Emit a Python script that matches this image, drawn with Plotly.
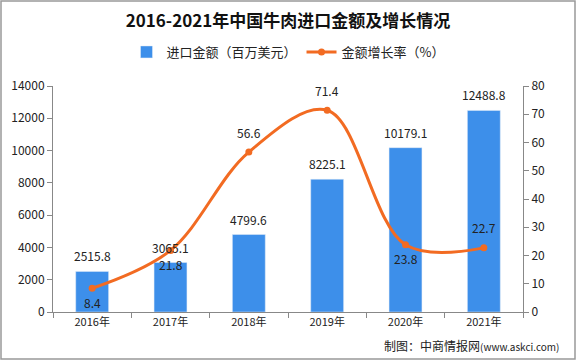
import plotly.graph_objects as go

years = ["2016年", "2017年", "2018年", "2019年", "2020年", "2021年"]
import_value = [2515.8, 3065.1, 4799.6, 8225.1, 10179.1, 12488.8]
growth_rate = [8.4, 21.8, 56.6, 71.4, 23.8, 22.7]
growth_label_side = ["below", "below", "above", "above", "below", "above"]

font_main = "Noto Sans CJK SC"

fig = go.Figure()
fig.add_trace(go.Bar(
    x=years, y=import_value, name="进口金额（百万美元）",
    marker_color="#3D8FEA", width=0.42, cliponaxis=False,
))
fig.add_trace(go.Scatter(
    x=years, y=growth_rate, name="金额增长率（%）", yaxis="y2",
    mode="lines+markers",
    line=dict(color="#F26B22", width=3, shape="spline", smoothing=1.0),
    marker=dict(size=7, color="#F26B22"),
    cliponaxis=False,
))

W, H = 576, 360
l, r, t, b = 53, 53, 86, 48
pw, ph = W - l - r, H - t - b

label_font = dict(size=12, color="#222", family=font_main)
bar_labels = [dict(x=yr, y=v, xref="x", yref="y", text=f"{v:.1f}", showarrow=False,
                   yanchor="bottom", yshift=5, font=label_font)
              for yr, v in zip(years, import_value)]
line_labels = [dict(x=yr, y=v, xref="x", yref="y2", text=f"{v:.1f}", showarrow=False,
                    yanchor="middle", yshift=(20 if side == "above" else -14), font=label_font)
               for yr, v, side in zip(years, growth_rate, growth_label_side)]

fig.update_layout(
    width=W, height=H,
    margin=dict(l=l, r=r, t=t, b=b, autoexpand=False),
    paper_bgcolor="white", plot_bgcolor="white",
    font=dict(family=font_main, size=12, color="#222"),
    title=dict(text="<b>2016-2021年中国牛肉进口金额及增长情况</b>", x=0.5, xanchor="center",
               y=1 - 21 / H, yanchor="middle", font=dict(size=17, color="#111", family=font_main)),
    legend=dict(orientation="h", x=0.5, xanchor="center", y=1 + 34 / ph, yanchor="middle",
                font=dict(size=13), itemwidth=30, bgcolor="rgba(0,0,0,0)"),
    xaxis=dict(showline=True, linecolor="#888", ticks="outside", tickcolor="#888", ticklen=5,
               tickson="boundaries", showgrid=False, tickfont=dict(size=11)),
    yaxis=dict(range=[0, 14000], dtick=2000, tickformat="d", showline=True, linecolor="#888",
               ticks="outside", tickcolor="#888", ticklen=5, showgrid=False,
               tickfont=dict(size=12), zeroline=False),
    yaxis2=dict(range=[0, 80], dtick=10, overlaying="y", side="right", showline=True, linecolor="#888",
                ticks="outside", tickcolor="#888", ticklen=5, showgrid=False, tickfont=dict(size=12),
                zeroline=False),
    annotations=bar_labels + line_labels + [dict(
        text="制图：中商情报网<span style='font-size:10px'>(www.askci.com)</span>",
        xref="paper", yref="paper", x=1 + 38 / pw, y=-33 / ph, xanchor="right",
        yanchor="middle", showarrow=False, font=dict(size=12, color="#222"))],
    shapes=[dict(type="rect", xref="paper", yref="paper",
                 x0=-(l - 1) / pw, x1=1 + (r - 1) / pw, y0=-(b - 1) / ph, y1=1 + (t - 1) / ph,
                 line=dict(color="#999", width=1.5))],
)

fig.write_html("out.html", config={"displayModeBar": False},
               post_script="document.body.style.margin='0';")
